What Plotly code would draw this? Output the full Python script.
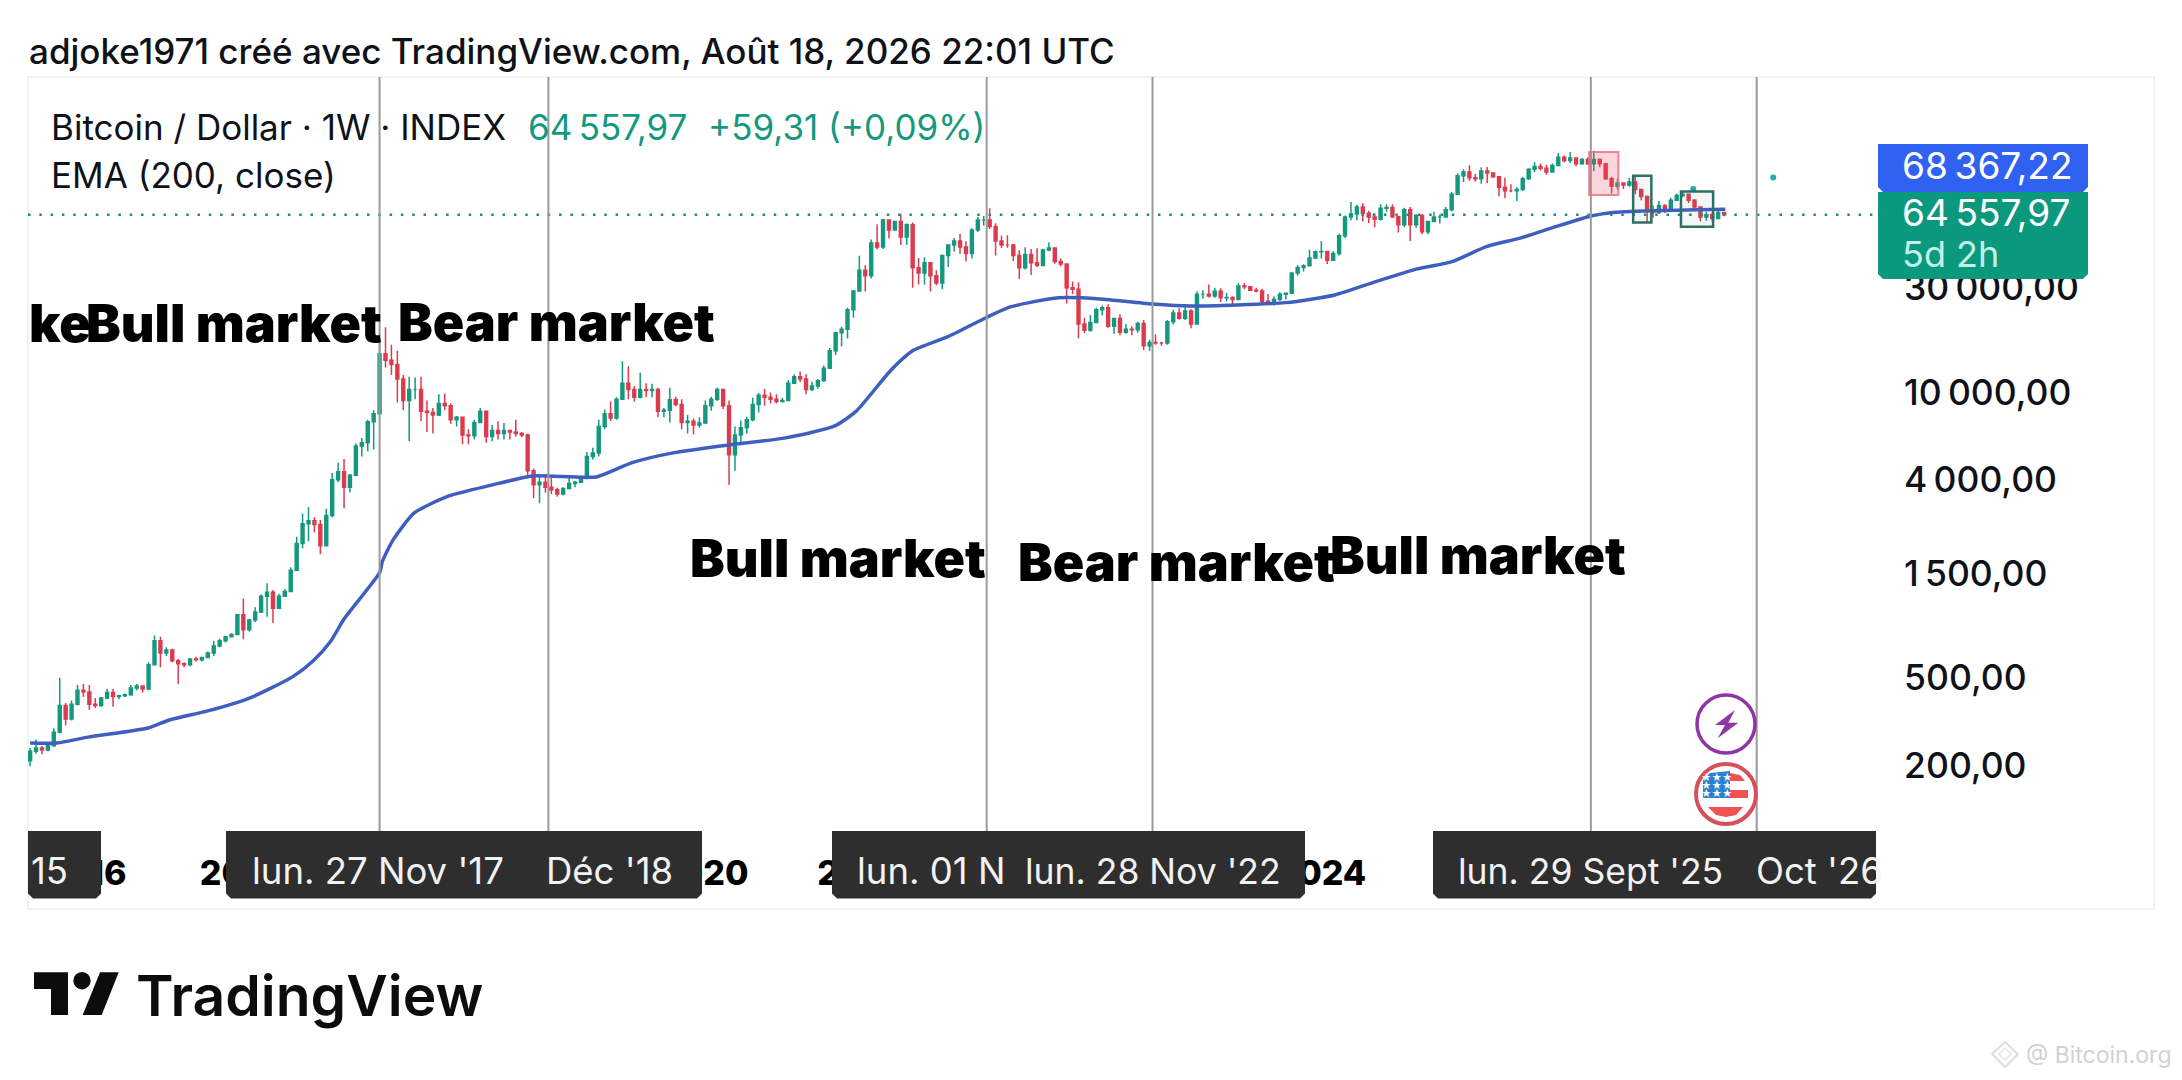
import pandas as pd
import plotly.graph_objects as go

W, H = 2182, 1080

# two week candles, one row per year
first_open = 210
close = [
    232, 240, 235, 246, 283, 375, 325, 380, 440, 432,
    380, 375, 405, 430, 412, 415, 420, 450, 460, 445, 575, 740, 650, 670, 600, 580, 575, 610, 605, 620, 650, 700, 740, 770, 790, 970,
    830, 920, 1000, 1180, 1230, 1040, 1180, 1240, 1550, 2050, 2520, 2600, 2500, 2000, 2750, 4000, 4350, 3700, 4200, 5700, 5900, 7350, 8000, 15000, 14000, 13400,
    11500, 9200, 10300, 10300, 8200, 8100, 7900, 8900, 8700, 7500, 7700, 6400, 6350, 7300, 8200, 6300, 6700, 6500, 6700, 6600, 6500, 6400, 4400, 3800, 3900, 3700,
    3600, 3450, 3650, 3850, 3900, 4050, 5100, 5300, 7000, 8000, 7650, 9300, 11000, 10300, 9500, 10300, 10200, 10300, 8200, 8300, 9250, 8800, 7300, 7400, 7100, 7250,
    8700, 9300, 10300, 8700, 5200, 6400, 6900, 7500, 8800, 9700, 9500, 9300, 9100, 9200, 11000, 11800, 11500, 10300, 10700, 11300, 12900, 15500, 18700, 19400, 23800, 29000,
    36000, 34000, 48000, 46000, 61000, 55000, 60000, 51000, 58000, 37000, 35000, 39000, 34000, 31500, 42000, 47000, 49000, 46000, 43000, 55000, 61000, 61000, 57000, 49000, 47000, 47000,
    42000, 37000, 42500, 39000, 38000, 44500, 45500, 39500, 38500, 30000, 29500, 20500, 19200, 20800, 23800, 24300, 20000, 21700, 18800, 19400, 19300, 20600, 16300, 16900, 16800, 16800,
    21000, 23000, 21800, 23500, 20500, 28000, 28000, 27500, 28900, 27000, 27100, 26500, 30500, 30300, 29200, 29000, 26000, 25900, 26600, 28000, 28300, 35000, 37100, 37800, 41000, 43700,
    43900, 40000, 43000, 51700, 63000, 65000, 70000, 65500, 63000, 61500, 69000, 69500, 63200, 58000, 68000, 58000, 64000, 54000, 60000, 63000, 63000, 68000, 80000, 97000, 101000, 95000, 94000,
    102000, 100000, 96000, 86000, 83000, 83000, 84000, 94000, 104000, 107000, 105000, 101000, 108000, 118000, 114000, 117000, 110000, 115000, 110000, 115000, 110000, 94000, 87000, 90000, 88000, 91000,
    84000, 78000, 68000, 66000, 71000, 67000, 75000, 79000, 80000, 75000, 70000, 63000, 64500, 62000, 66000, 64558,
]
high = [
    240, 262, 245, 250, 295, 500, 385, 395, 465, 470,
    465, 405, 410, 445, 445, 420, 425, 465, 470, 460, 590, 780, 770, 690, 680, 610, 590, 615, 625, 625, 660, 740, 755, 775, 800, 975,
    1150, 930, 1050, 1200, 1350, 1260, 1210, 1270, 1600, 2200, 2800, 3000, 2700, 2620, 2950, 4300, 4780, 4980, 4250, 5850, 6200, 7500, 8300, 17000, 19800, 16500,
    15500, 12000, 11800, 11700, 11800, 9200, 8500, 9800, 9900, 8900, 7800, 7700, 6800, 7500, 8500, 8200, 7100, 7400, 7250, 6700, 7500, 6600, 6500, 4500, 4200, 4250,
    4100, 3680, 3700, 4200, 3950, 4100, 5350, 5600, 7500, 8350, 9100, 9500, 13880, 13150, 10700, 12300, 11000, 10950, 10500, 8500, 10500, 9550, 9300, 7900, 7600, 7700,
    9200, 9550, 10500, 10300, 9180, 7000, 7450, 7750, 9450, 9950, 10400, 10000, 9800, 9450, 11400, 12100, 12450, 12100, 11200, 11500, 13250, 15950, 18800, 19900, 24300, 29300,
    41950, 38000, 49700, 58300, 61800, 61500, 60200, 64800, 59000, 59500, 41000, 41300, 35500, 36000, 42500, 47200, 50500, 52900, 48800, 56000, 63000, 63700, 69000, 59000, 51900, 52000,
    47500, 44400, 45800, 45000, 45400, 45100, 48200, 42500, 40800, 36800, 32000, 31700, 21900, 22500, 24300, 24900, 25200, 21900, 22700, 20500, 20000, 21000, 21400, 17400, 18400, 17000,
    21400, 23800, 24200, 25200, 23900, 28900, 29200, 31000, 30000, 29800, 28400, 27400, 31400, 31500, 30300, 30000, 29700, 28100, 27400, 28600, 28500, 35200, 38000, 38400, 44700, 44300,
    48900, 43500, 44000, 52800, 64000, 73800, 71700, 72700, 67200, 65500, 72000, 72000, 71900, 63800, 69400, 70000, 65000, 65000, 60600, 66500, 64600, 70000, 81800, 99700, 104000, 108300, 99000,
    106000, 106400, 99000, 96500, 95000, 88800, 86000, 95800, 105000, 112000, 110500, 109000, 110500, 123200, 120000, 124500, 117000, 117000, 117900, 126200, 116400, 110500, 96000, 94000, 90500, 94800,
    97200, 84500, 79000, 71000, 74500, 72000, 77000, 80500, 82200, 80500, 76000, 70500, 66500, 66000, 67500, 66000,
]
low = [
    198, 226, 225, 232, 243, 280, 305, 320, 375, 410,
    358, 365, 370, 400, 370, 400, 410, 415, 440, 430, 440, 570, 560, 630, 590, 470, 560, 565, 595, 595, 620, 630, 690, 725, 765, 785,
    750, 815, 900, 990, 950, 890, 1040, 1170, 1240, 1550, 1950, 2100, 2300, 1830, 1990, 2700, 3900, 2970, 3500, 4150, 5100, 5400, 5500, 8000, 13000, 12000,
    9000, 8300, 6000, 9300, 7400, 6600, 6500, 7800, 8300, 7200, 7000, 5800, 5800, 6100, 7300, 5900, 6000, 6100, 6100, 6100, 6300, 6250, 4050, 3300, 3130, 3500,
    3450, 3350, 3400, 3650, 3700, 3900, 4050, 4950, 5100, 6800, 7400, 7500, 9700, 9300, 9100, 9400, 9500, 9500, 7700, 7700, 7300, 8650, 6800, 6500, 6430, 6900,
    7650, 8250, 9150, 8400, 3800, 4400, 5850, 6500, 7400, 8100, 8700, 8900, 8900, 9000, 9150, 10950, 11150, 9800, 10150, 10400, 11200, 12800, 14800, 16200, 17600, 21900,
    29000, 28800, 33000, 44900, 45000, 50400, 54700, 47000, 47000, 30000, 31000, 31000, 28800, 30800, 29500, 37300, 43900, 42800, 39500, 40700, 53800, 57600, 55500, 42000, 45500, 45600,
    39700, 32900, 36300, 34300, 37300, 37500, 44000, 38600, 37600, 25400, 28000, 17600, 18600, 18900, 20700, 22400, 19700, 18500, 18200, 18500, 18200, 18700, 15600, 15500, 16500, 16300,
    16500, 20400, 21500, 21400, 19600, 20400, 26700, 27100, 27000, 25800, 26000, 24800, 26500, 29500, 29000, 28600, 25300, 25400, 24900, 26000, 26500, 28200, 34100, 35600, 37600, 40500,
    40700, 38500, 41900, 42000, 50500, 60800, 60800, 60000, 59100, 56500, 60700, 66500, 62300, 53500, 56700, 49000, 56200, 52600, 52600, 59800, 58900, 65200, 66800, 80600, 90900, 92200, 91500,
    89300, 90000, 94800, 78200, 76600, 81700, 74500, 83000, 92800, 100700, 102600, 98200, 105100, 107500, 111900, 111000, 107300, 109000, 108600, 102000, 106100, 93000, 80600, 83800, 84500, 86500,
    80000, 75000, 59400, 62500, 65000, 65500, 66500, 74500, 77500, 73000, 68000, 60000, 60500, 60000, 61500, 63500,
]
candle_dates = pd.date_range("2015-08-24", periods=len(close), freq="14D")
open_ = [first_open] + close[:-1]

ema_dates = ["2015-08-24", "2015-10-27", "2016-01-08", "2016-05-29", "2016-07-18", "2016-10-17", "2017-01-25", "2017-05-05",
             "2017-06-24", "2017-08-03", "2017-09-04", "2017-10-24", "2017-11-27", "2017-12-04", "2017-12-29", "2018-02-17",
             "2018-05-10", "2018-08-16", "2018-11-24", "2019-04-23", "2019-07-15", "2019-10-22", "2020-03-03", "2020-07-14",
             "2020-11-07", "2020-12-27", "2021-03-20", "2021-05-09", "2021-07-31", "2021-10-29", "2021-12-27", "2022-04-05",
             "2022-05-09", "2022-07-26", "2022-11-27", "2023-02-24", "2023-10-09", "2024-02-02", "2024-05-09", "2024-08-15",
             "2024-11-05", "2025-01-25", "2025-04-17", "2025-07-08", "2025-09-29", "2025-11-15", "2026-02-21", "2026-08-13"]
ema_values = [253, 253, 269, 296, 322, 354, 406, 506, 601, 733, 929, 1233, 1507, 1707, 2129, 2825,
              3376, 3770, 4165, 4122, 4774, 5303, 5766, 6208, 7037, 8194, 12663, 15460, 17900, 21840, 24520, 26800,
              27040, 26670, 25300, 24780, 25650, 27800, 31980, 36530, 39450, 46160, 50560, 56910, 63680, 65920, 67320, 68367]

last_price = 64557.97
x_range = ["2015-08-19", "2027-08-04"]
y_range = [2.002, 5.437]

price_ticks = [200, 500, 1500, 4000, 10000, 30000]
price_labels = ["200,00", "500,00", "1\u202f500,00", "4\u202f000,00", "10\u202f000,00", "30\u202f000,00"]
year_ticks = ["2016-01-01", "2017-01-01", "2018-01-01", "2019-01-01", "2020-01-01", "2021-01-01", "2022-01-01", "2023-01-01", "2024-01-01", "2025-01-01", "2026-01-01"]
year_labels = ["2016", "2017", "2018", "2019", "2020", "2021", "2022", "2023", "2024", "2025", "2026"]
vline_dates = ["2017-11-27", "2018-12-31", "2021-11-01", "2022-11-28", "2025-09-29", "2026-10-26"]

pink_box = ["2025-09-25", "2025-12-03", 79400, 124600]
green_boxes = [["2026-01-07", "2026-02-19", 59400, 97200], ["2026-04-30", "2026-07-15", 56900, 82200]]
dot_dates = ["2026-05-29", "2026-12-04"]
dot_values = [84500, 95200]

UP = "#14987f"
DOWN = "#dc3b4e"
INK = "#0f1218"
DARK = "#2e2e2e"
FONT = "Inter"


def fx(v):
    return v / W


def fy(v):
    return 1 - v / H


def box_path(x0, y0, x1, y1, r=5):
    # rectangle with the two lower corners rounded, pixel input
    pts = [(x0, y0), (x1, y0), (x1, y1 - r), (x1 - r, y1), (x0 + r, y1), (x0, y1 - r)]
    return "M" + " L".join(f"{fx(a):.5f},{fy(b):.5f}" for a, b in pts) + " Z"


def poly(pts):
    return "M" + " L".join(f"{fx(a):.5f},{fy(b):.5f}" for a, b in pts) + " Z"


def paper_shape(path, color, line=None, width=0):
    return dict(type="path", xref="paper", yref="paper", path=path, fillcolor=color,
                line=dict(color=line or color, width=width), layer="above")


def circle(cx, cy, r, fill, line, width):
    return dict(type="circle", xref="paper", yref="paper", x0=fx(cx - r), x1=fx(cx + r), y0=fy(cy + r), y1=fy(cy - r),
                fillcolor=fill, line=dict(color=line, width=width), layer="above")


def label(text, x, y, size, color=INK, weight=400, anchor="left", bg=None):
    return dict(text=text, x=fx(x), y=fy(y), xref="paper", yref="paper", showarrow=False, xanchor=anchor, yanchor="middle",
                bgcolor=bg, borderpad=0, font=dict(family=FONT, size=size, color=color, weight=weight))


fig = go.Figure()
fig.add_trace(go.Candlestick(x=candle_dates, open=open_, high=high, low=low, close=close,
                             increasing=dict(line=dict(color=UP, width=1.5), fillcolor=UP),
                             decreasing=dict(line=dict(color=DOWN, width=1.5), fillcolor=DOWN),
                             whiskerwidth=0, showlegend=False))
fig.add_trace(go.Scatter(x=ema_dates, y=ema_values, mode="lines", line=dict(color="#3f5fc0", width=3.5, shape="spline", smoothing=0.6), showlegend=False))
fig.add_trace(go.Scatter(x=x_range, y=[last_price, last_price], mode="lines", line=dict(color="#1a8f7d", width=2.5, dash="2.5px,8.8px"), showlegend=False))
fig.add_trace(go.Scatter(x=dot_dates, y=dot_values, mode="markers", marker=dict(color="#22a7b4", size=6), showlegend=False))

shapes = [dict(type="rect", xref="paper", yref="paper", x0=fx(28), x1=fx(2154), y0=fy(909), y1=fy(77),
               line=dict(color="#f0f0f0", width=1.5), layer="below")]

# vertical lines
for d in vline_dates:
    shapes.append(dict(type="line", xref="x", yref="y domain", x0=d, x1=d, y0=0, y1=1, line=dict(color="#9a9a9a", width=2), layer="above"))

shapes.append(dict(type="rect", xref="x", yref="y", x0=pink_box[0], x1=pink_box[1], y0=pink_box[2], y1=pink_box[3],
                   fillcolor="rgba(240,70,90,0.22)", line=dict(color="rgba(225,110,130,0.8)", width=2), layer="above"))
for b in green_boxes:
    shapes.append(dict(type="rect", xref="x", yref="y", x0=b[0], x1=b[1], y0=b[2], y1=b[3],
                       fillcolor="rgba(120,130,130,0.08)", line=dict(color="#2f6f66", width=2.5), layer="above"))

# dark date labels under the chart
for x0, x1 in [(28, 101), (226, 702), (832, 1305), (1433, 1876)]:
    shapes.append(paper_shape(box_path(x0, 831, x1, 898.6), DARK))

# price labels
shapes.append(paper_shape(box_path(1878, 144, 2088, 192), "#2f62f0"))
shapes.append(paper_shape(box_path(1878, 192, 2088, 279), "#0b997e"))

# icons
shapes.append(circle(1726, 724, 29, "white", "#8e35a8", 3.5))
shapes.append(paper_shape(poly([(1735, 710), (1715, 725), (1725, 725), (1717.7, 738.3), (1738.3, 722.7), (1728.3, 722.7)]), "#8e35a8"))
shapes.append(circle(1726, 794, 30, "white", "#d5505a", 4))
shapes.append(paper_shape(poly([(1703, 780), (1710, 773), (1730, 771), (1730, 798), (1703, 798)]), "#2d7fd0"))
shapes.append(paper_shape(poly([(1730, 773), (1740, 775), (1745, 781), (1730, 781)]), "#ef5350"))
shapes.append(paper_shape(poly([(1730, 790), (1748, 790), (1748, 798), (1730, 798)]), "#ef5350"))
shapes.append(paper_shape(poly([(1708, 807), (1743, 807), (1736, 815), (1726, 817), (1716, 815)]), "#ef5350"))

# logo and watermark
shapes.append(paper_shape(poly([(34, 972.3), (68, 972.3), (68, 1015), (51, 1015), (51, 989), (34, 989)]), "#0c0c0c"))
shapes.append(circle(82, 980.7, 8.7, "#0c0c0c", "#0c0c0c", 0))
shapes.append(paper_shape(poly([(100, 972.3), (118.7, 972.3), (101.7, 1015), (82.7, 1015)]), "#0c0c0c"))
shapes.append(paper_shape(poly([(2005, 1042), (2018, 1054), (2005, 1067), (1992, 1054)]), "rgba(255,255,255,0)", "#dddddd", 2))
shapes.append(paper_shape(poly([(2005, 1048), (2011, 1054), (2005, 1060), (1999, 1054)]), "rgba(255,255,255,0)", "#e4e4e4", 1.5))

annotations = [
    label("adjoke1971 créé avec TradingView.com, Août 18, 2026 22:01 UTC", 28, 51, 35, weight=500),
    label("Bitcoin / Dollar · 1W · INDEX", 50, 127, 35),
    label("64\u202f557,97", 527, 127, 35, UP),
    label("+59,31 (+0,09%)", 707, 127, 35, UP),
    label("EMA (200, close)", 50, 175, 35),
    label("ke", 28, 323, 52, "#000000", 900),
    label("Bull market", 85, 323, 52, "#000000", 900),
    label("Bear market", 397, 322, 52, "#000000", 900),
    label("Bull market", 689, 558, 52, "#000000", 900),
    label("Bear market", 1017, 562, 52, "#000000", 900),
    label("Bull market", 1329, 555, 52, "#000000", 900),
    label("15", 30, 871, 36.5, "#f2f2f2"),
    label("lun. 27 Nov '17", 251, 871, 36.5, "#f2f2f2"),
    label("Déc '18", 545, 871, 36.5, "#f2f2f2"),
    label("lun. 01 N", 856, 871, 36.5, "#f2f2f2"),
    label("lun. 28 Nov '22", 1024, 871, 35.5, "#f2f2f2", bg=DARK),
    label("lun. 29 Sept '25", 1457, 871, 35.5, "#f2f2f2"),
    label("Oct '26", 1755, 871, 36.5, "#f2f2f2"),
    label("68\u202f367,22", 1901, 166, 37, "#ffffff"),
    label("64\u202f557,97", 1901, 213, 37, "#ffffff"),
    label("5d 2h", 1901, 254, 36, "#c5f0e5"),
    label("★★★", 1716.7, 777, 10, "#ffffff", anchor="center"),
    label("★★★", 1716.7, 785, 10, "#ffffff", anchor="center"),
    label("★★★", 1716.7, 793, 10, "#ffffff", anchor="center"),
    label("TradingView", 135, 995, 57, "#0c0c0c", 600),
    label("@ Bitcoin.org", 2025, 1055, 23, "#d2d2d2"),
]

fig.update_layout(
    width=W, height=H, margin=dict(l=0, r=0, t=0, b=0), autosize=False,
    paper_bgcolor="white", plot_bgcolor="white", showlegend=False, boxgap=0.3,
    shapes=shapes, annotations=annotations, hovermode=False,
    xaxis=dict(type="date", range=x_range, domain=[fx(28), fx(1876)], rangeslider=dict(visible=False), showgrid=False, zeroline=False,
               tickmode="array", tickvals=year_ticks, ticktext=year_labels, tickangle=0, ticks="outside", ticklen=12, tickcolor="rgba(0,0,0,0)",
               tickfont=dict(family=FONT, size=34, color="#000000", weight=800), showline=False),
    yaxis=dict(type="log", range=y_range, domain=[fy(831), fy(77)], side="right", showgrid=False, zeroline=False,
               tickmode="array", tickvals=price_ticks, ticktext=price_labels, ticks="outside", ticklen=20, tickcolor="rgba(0,0,0,0)",
               tickfont=dict(family=FONT, size=35.5, color=INK, weight=500), showline=False),
)

fig.write_html("out.html", config={"displayModeBar": False},
               post_script="document.body.style.margin='0';document.body.style.overflow='hidden';")
